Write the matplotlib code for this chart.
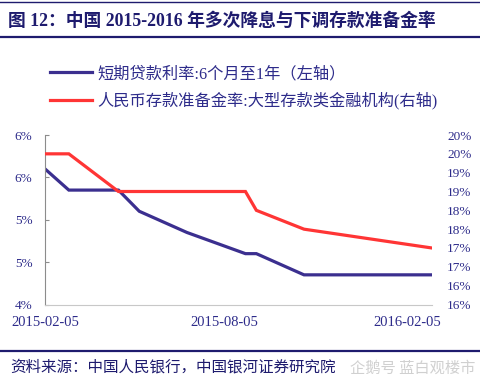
import matplotlib
matplotlib.use('Agg')
import matplotlib.pyplot as plt
from matplotlib.lines import Line2D
import pandas as pd

plt.rcParams['font.family'] = ['Liberation Serif', 'Noto Sans CJK SC', 'DejaVu Sans']

# event dates (rate cut / RRR cut days)
dates = pd.to_datetime(['2015-02-05', '2015-03-01', '2015-04-20', '2015-05-11',
                        '2015-06-28', '2015-08-26', '2015-09-06', '2015-10-24',
                        '2016-03-01'])
loan_rate = [5.60, 5.35, 5.35, 5.10, 4.85, 4.60, 4.60, 4.35, 4.35]
rrr_large = [19.5, 19.5, 18.5, 18.5, 18.5, 18.5, 18.0, 17.5, 17.0]

x_ticks = pd.to_datetime(['2015-02-05', '2015-08-05', '2016-02-05'])
x_labels = ['2015-02-05', '2015-08-05', '2016-02-05']
left_ticks = [4.0, 4.5, 5.0, 5.5, 6.0]
left_labels = ['4%', '5%', '5%', '6%', '6%']
right_ticks = [15.5, 16.0, 16.5, 17.0, 17.5, 18.0, 18.5, 19.0, 19.5, 20.0]
right_labels = ['16%', '16%', '17%', '17%', '18%', '18%', '19%', '19%', '20%', '20%']

title = '图 12：中国 2015-2016 年多次降息与下调存款准备金率'
name1 = '短期贷款利率:6个月至1年（左轴）'
name2 = '人民币存款准备金率:大型存款类金融机构(右轴)'
source = '资料来源：中国人民银行，中国银河证券研究院'

navy = '#1e1b6e'
txt = '#2d2b8a'
blue = '#3b2f8f'
red = '#ff3535'

fig = plt.figure(figsize=(4.8, 3.8), dpi=100)
ax = fig.add_axes([45/480, 1-304.5/380, (432-45)/480, (304.5-135)/380])
ax2 = ax.twinx()

l1, = ax.plot(dates, loan_rate, color=blue, lw=2.3, solid_joinstyle='miter')
l2, = ax2.plot(dates, rrr_large, color=red, lw=2.3, solid_joinstyle='miter')

ax.set_xlim(dates[0], dates[-1])
ax.set_ylim(4, 6)
ax2.set_ylim(15.5, 20)

ax.set_xticks(x_ticks)
ax.set_xticklabels(x_labels)
ax.set_yticks(left_ticks)
ax.set_yticklabels(left_labels)
ax2.set_yticks(right_ticks)
ax2.set_yticklabels(right_labels)

for a in (ax, ax2):
    for s in ('top', 'right'):
        a.spines[s].set_visible(False)
ax2.spines['left'].set_visible(False)
ax2.spines['bottom'].set_visible(False)
ax.spines['left'].set_color('#8c8c8c')
ax.spines['bottom'].set_color('#c8c8c8')

ax.tick_params(axis='x', length=0, pad=8, labelsize=10.5, labelcolor=txt)
ax.tick_params(axis='y', direction='in', length=3, color='#8c8c8c', pad=9,
               labelsize=9.5, labelcolor=txt)
ax2.tick_params(axis='y', length=0, pad=11, labelsize=9.5, labelcolor=txt)

fig.legend([l1, l2], [name1, name2], loc='upper left',
           bbox_to_anchor=(50/480, 1-66/380), frameon=False, fontsize=11.7,
           handlelength=2.6, handletextpad=0.3, labelspacing=0.62,
           borderpad=0, borderaxespad=0, labelcolor=txt)

fig.text(8/480, 1-21/380, title, fontsize=12.8, fontweight='bold', color=navy,
         va='center', ha='left')
fig.text(10/480, 1-367/380, source, fontsize=11.2, color=navy, va='center',
         ha='left', style='italic')
fig.text(350/480, 1-368/380, '企鹅号 蓝白观楼市', fontsize=11, color='#d0d0d0',
         va='center', ha='left', family=['Noto Sans CJK SC'])

for yy, w in ((2, 1.0), (37, 1.6), (351, 1.6)):
    fig.add_artist(Line2D([0, 1], [1-yy/380, 1-yy/380], color=navy, lw=w,
                          transform=fig.transFigure))

fig.savefig('out.png', dpi=100)
